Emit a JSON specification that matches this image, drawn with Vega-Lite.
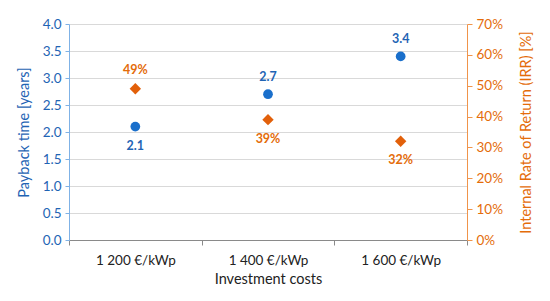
{
  "$schema": "https://vega.github.io/schema/vega-lite/v6.json",
  "width": 398,
  "height": 216,
  "autosize": {"type": "none"},
  "padding": {"left": 69, "top": 24, "right": 83, "bottom": 61},
  "background": "white",
  "config": {
    "font": "Lato",
    "view": {"stroke": null},
    "axis": {"labelFont": "Lato", "titleFont": "Lato", "titleFontWeight": "normal", "labelFontSize": 13.5, "titleFontSize": 14.5}
  },
  "data": {
    "values": [
      {"cost": "1 200 €/kWp", "payback": 2.1, "irr": 0.49},
      {"cost": "1 400  €/kWp", "payback": 2.7, "irr": 0.39},
      {"cost": "1 600  €/kWp", "payback": 3.4, "irr": 0.32}
    ]
  },
  "encoding": {
    "x": {
      "field": "cost", "type": "nominal", "sort": null,
      "scale": {"paddingInner": 0, "paddingOuter": 0},
      "axis": {
        "title": "Investment costs", "titleColor": "#222222", "titlePadding": 6,
        "labelAngle": 0, "labelColor": "#222222", "labelPadding": 8,
        "domainColor": "#8a8a8a", "tickColor": "#8a8a8a", "tickBand": "extent", "tickSize": 5,
        "grid": false
      }
    }
  },
  "layer": [
    {
      "encoding": {
        "y": {
          "field": "payback", "type": "quantitative",
          "scale": {"domain": [0, 4]},
          "axis": {
            "title": "Payback time [years]", "titleColor": "#1F64B4", "titlePadding": 11,
            "values": [0, 0.5, 1, 1.5, 2, 2.5, 3, 3.5, 4], "format": ".1f",
            "labelColor": "#1F64B4", "labelPadding": 4,
            "domainColor": "#7FB2E6", "tickColor": "#7FB2E6", "tickSize": 4,
            "grid": true, "gridColor": "#d9d9d9"
          }
        }
      },
      "layer": [
        {"mark": {"type": "point", "shape": "circle", "filled": true, "size": 95, "color": "#1A6FCB", "opacity": 1}},
        {
          "transform": [{"filter": "datum.payback > 2.5"}],
          "mark": {"type": "text", "dy": -17, "fontWeight": "bold", "fontSize": 12.5, "color": "#1F64B4"},
          "encoding": {"text": {"field": "payback", "type": "quantitative", "format": ".1f"}}
        },
        {
          "transform": [{"filter": "datum.payback <= 2.5"}],
          "mark": {"type": "text", "dy": 19, "fontWeight": "bold", "fontSize": 12.5, "color": "#1F64B4"},
          "encoding": {"text": {"field": "payback", "type": "quantitative", "format": ".1f"}}
        }
      ]
    },
    {
      "encoding": {
        "y": {
          "field": "irr", "type": "quantitative",
          "scale": {"domain": [0, 0.7]},
          "axis": {
            "orient": "right",
            "title": "Internal Rate of Return (IRR) [%]", "titleColor": "#E46C0A", "titlePadding": 17, "titleAngle": 270, "titleBaseline": "top",
            "values": [0, 0.1, 0.2, 0.3, 0.4, 0.5, 0.6, 0.7], "format": ".0%",
            "labelColor": "#E46C0A", "labelPadding": 4,
            "domainColor": "#F0944A", "tickColor": "#F0944A", "tickSize": 5,
            "grid": false
          }
        }
      },
      "layer": [
        {"mark": {"type": "point", "shape": "diamond", "filled": true, "size": 130, "color": "#E2600A", "opacity": 1}},
        {
          "transform": [{"filter": "datum.irr > 0.45"}],
          "mark": {"type": "text", "dy": -19, "fontWeight": "bold", "fontSize": 12.5, "color": "#E46C0A"},
          "encoding": {"text": {"field": "irr", "type": "quantitative", "format": ".0%"}}
        },
        {
          "transform": [{"filter": "datum.irr <= 0.45"}],
          "mark": {"type": "text", "dy": 19, "fontWeight": "bold", "fontSize": 12.5, "color": "#E46C0A"},
          "encoding": {"text": {"field": "irr", "type": "quantitative", "format": ".0%"}}
        }
      ]
    }
  ],
  "resolve": {"scale": {"y": "independent"}, "axis": {"y": "independent"}}
}
